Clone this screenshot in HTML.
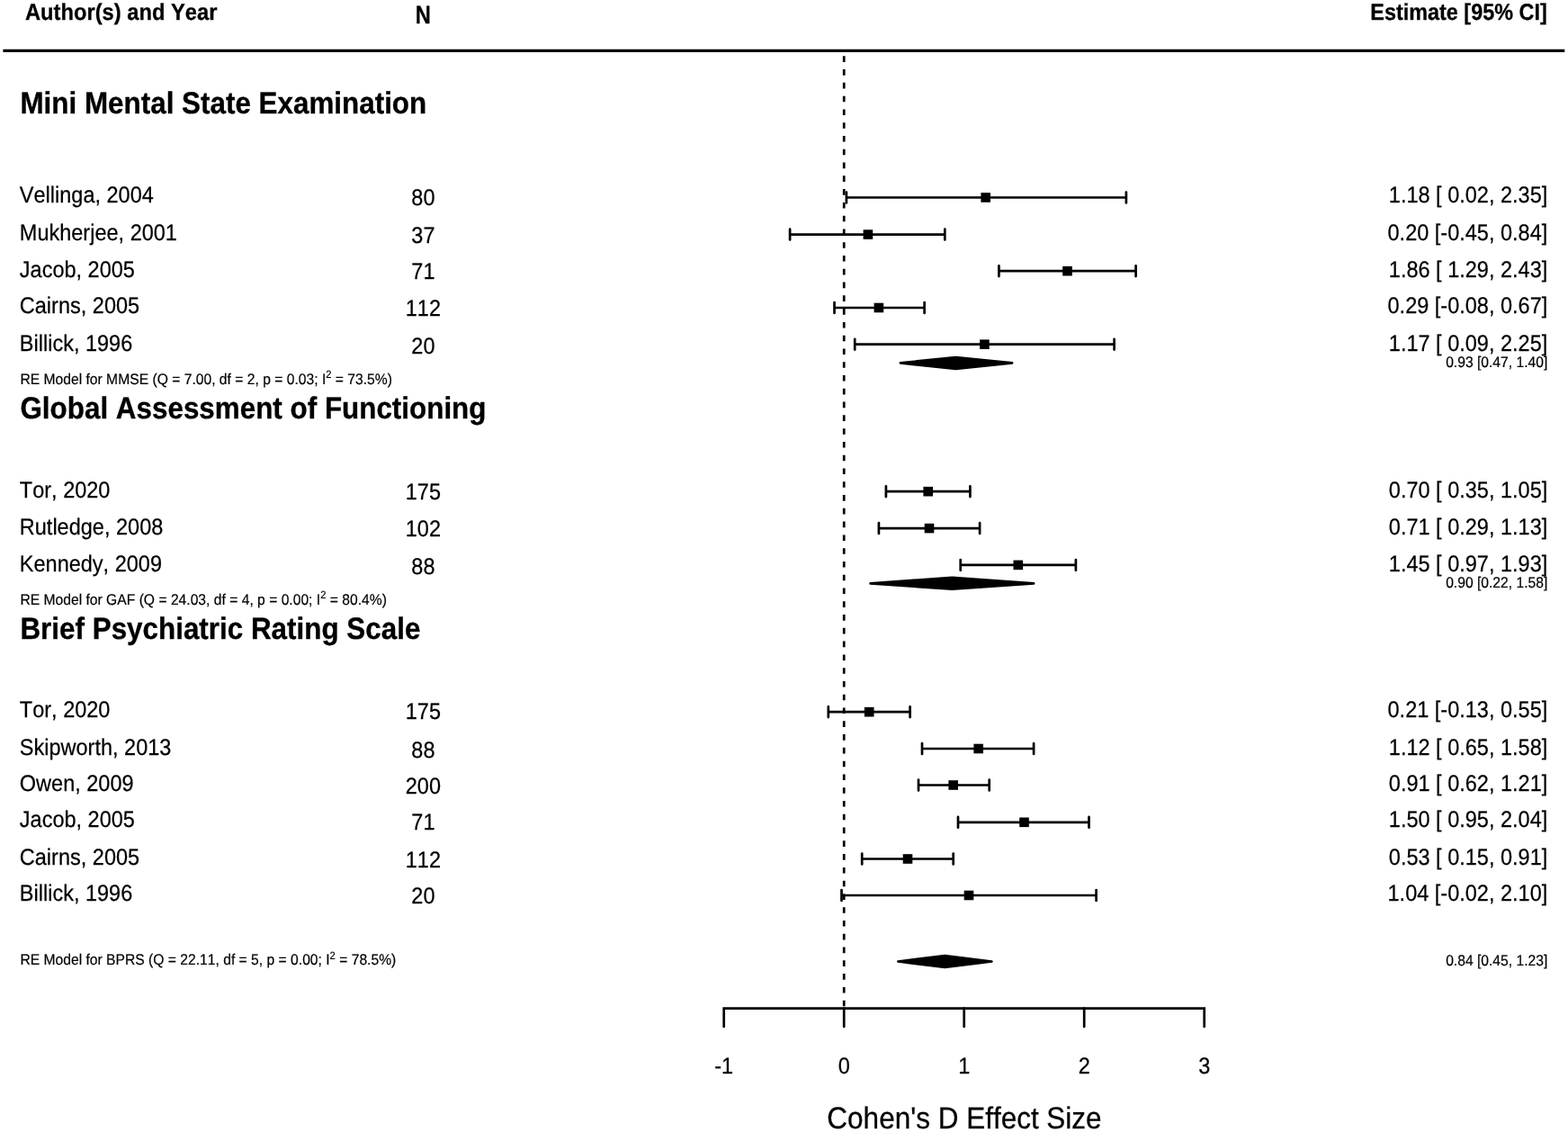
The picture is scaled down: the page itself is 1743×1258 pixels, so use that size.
<!DOCTYPE html>
<html lang="en">
<head>
<meta charset="utf-8">
<title>Forest plot</title>
<style>
html,body{margin:0;padding:0;background:#fff;}
body{width:1743px;height:1258px;overflow:hidden;}
svg{display:block;font-family:"Liberation Sans", Arial, Helvetica, sans-serif;fill:#000;font-kerning:none;text-rendering:geometricPrecision;}
.hd{font-size:25.7px;font-weight:700;stroke:#000;stroke-width:0.3px;}
.sec{font-size:34px;font-weight:700;stroke:#000;stroke-width:0.35px;}
.row{font-size:25.4px;font-weight:400;stroke:#000;stroke-width:0.25px;}
.sm{font-size:16.8px;font-weight:400;stroke:#000;stroke-width:0.2px;}
.ax{font-size:25.4px;font-weight:400;stroke:#000;stroke-width:0.25px;}
.xl{font-size:33.9px;font-weight:400;stroke:#000;stroke-width:0.3px;}
text{white-space:pre;}
.ln{stroke:#000;stroke-width:2.7;fill:none;stroke-linecap:round;}
.dm{stroke:#000;stroke-width:2.7;stroke-linejoin:round;}
</style>
</head>
<body>
<svg width="1743" height="1258" viewBox="0 0 1743 1258">
<defs><filter id="soft" x="0" y="0" width="1743" height="1258" filterUnits="userSpaceOnUse"><feGaussianBlur stdDeviation="0.55"/></filter></defs>
<rect x="0" y="0" width="1743" height="1258" fill="#fff"/>
<g filter="url(#soft)">
<text class="hd" transform="translate(28.00 21.80) scale(0.923 1)" xml:space="preserve">Author(s) and Year</text>
<text class="hd" transform="translate(470.30 25.70) scale(0.847 1)" text-anchor="middle" style="font-size:28px" xml:space="preserve">N</text>
<text class="hd" transform="translate(1719.70 21.80) scale(0.911 1)" text-anchor="end" xml:space="preserve">Estimate [95% CI]</text>
<line x1="3.4" y1="56.4" x2="1739.3" y2="56.4" stroke="#000" stroke-width="3.2"/>
<line x1="938.2" y1="62.3" x2="938.2" y2="1120.7" stroke="#000" stroke-width="2.7" stroke-dasharray="6.6 8.18"/>
<text class="sec" transform="translate(22.45 125.90) scale(0.9233 1)" xml:space="preserve">Mini Mental State Examination</text>
<text class="row" transform="translate(21.80 225.40) scale(0.926 1)" xml:space="preserve">Vellinga, 2004</text>
<text class="row" transform="translate(470.40 228.20) scale(0.926 1)" text-anchor="middle" xml:space="preserve">80</text>
<text class="row" transform="translate(1720.30 225.40) scale(0.926 1)" text-anchor="end" xml:space="preserve">1.18 [ 0.02, 2.35]</text>
<path class="ln" d="M940.9 219.5H1251.9M940.9 213.6v11.8M1251.9 213.6v11.8"/>
<rect x="1090.4" y="214.2" width="10.6" height="10.6"/>
<text class="row" transform="translate(21.80 267.12) scale(0.926 1)" xml:space="preserve">Mukherjee, 2001</text>
<text class="row" transform="translate(470.40 269.92) scale(0.926 1)" text-anchor="middle" xml:space="preserve">37</text>
<text class="row" transform="translate(1720.30 267.12) scale(0.926 1)" text-anchor="end" xml:space="preserve">0.20 [-0.45, 0.84]</text>
<path class="ln" d="M878.1 260.6H1050.3M878.1 254.7v11.8M1050.3 254.7v11.8"/>
<rect x="959.6" y="255.3" width="10.6" height="10.6"/>
<text class="row" transform="translate(21.80 307.54) scale(0.926 1)" xml:space="preserve">Jacob, 2005</text>
<text class="row" transform="translate(470.40 310.34) scale(0.926 1)" text-anchor="middle" xml:space="preserve">71</text>
<text class="row" transform="translate(1720.30 307.54) scale(0.926 1)" text-anchor="end" xml:space="preserve">1.86 [ 1.29, 2.43]</text>
<path class="ln" d="M1110.4 301.2H1262.6M1110.4 295.3v11.8M1262.6 295.3v11.8"/>
<rect x="1181.2" y="295.9" width="10.6" height="10.6"/>
<text class="row" transform="translate(21.80 348.46) scale(0.926 1)" xml:space="preserve">Cairns, 2005</text>
<text class="row" transform="translate(470.40 351.26) scale(0.926 1)" text-anchor="middle" xml:space="preserve">112</text>
<text class="row" transform="translate(1720.30 348.46) scale(0.926 1)" text-anchor="end" xml:space="preserve">0.29 [-0.08, 0.67]</text>
<path class="ln" d="M927.5 342.0H1027.6M927.5 336.1v11.8M1027.6 336.1v11.8"/>
<rect x="971.6" y="336.7" width="10.6" height="10.6"/>
<text class="row" transform="translate(21.80 390.08) scale(0.926 1)" xml:space="preserve">Billick, 1996</text>
<text class="row" transform="translate(470.40 392.88) scale(0.926 1)" text-anchor="middle" xml:space="preserve">20</text>
<text class="row" transform="translate(1720.30 390.08) scale(0.926 1)" text-anchor="end" xml:space="preserve">1.17 [ 0.09, 2.25]</text>
<path class="ln" d="M950.2 382.7H1238.6M950.2 376.8v11.8M1238.6 376.8v11.8"/>
<rect x="1089.1" y="377.4" width="10.6" height="10.6"/>
<text class="sm" transform="translate(22.40 427.00) scale(0.933 1)" xml:space="preserve">RE Model for MMSE (Q = 7.00, df = 2, p = 0.03; I<tspan dy="-6.6" font-size="12">2</tspan><tspan dy="6.6"> = 73.5%)</tspan></text>
<text class="sm" transform="translate(1720.30 407.70) scale(0.933 1)" text-anchor="end" xml:space="preserve">0.93 [0.47, 1.40]</text>
<polygon class="dm" points="1000.9,403.4 1062.4,397.0 1125.1,403.4 1062.4,409.8"/>
<text class="sec" transform="translate(22.45 464.90) scale(0.9233 1)" xml:space="preserve">Global Assessment of Functioning</text>
<text class="row" transform="translate(21.80 552.56) scale(0.926 1)" xml:space="preserve">Tor, 2020</text>
<text class="row" transform="translate(470.40 555.36) scale(0.926 1)" text-anchor="middle" xml:space="preserve">175</text>
<text class="row" transform="translate(1720.30 552.56) scale(0.926 1)" text-anchor="end" xml:space="preserve">0.70 [ 0.35, 1.05]</text>
<path class="ln" d="M984.9 546.2H1078.4M984.9 540.3v11.8M1078.4 540.3v11.8"/>
<rect x="1026.4" y="540.9" width="10.6" height="10.6"/>
<text class="row" transform="translate(21.80 593.53) scale(0.926 1)" xml:space="preserve">Rutledge, 2008</text>
<text class="row" transform="translate(470.40 596.33) scale(0.926 1)" text-anchor="middle" xml:space="preserve">102</text>
<text class="row" transform="translate(1720.30 593.53) scale(0.926 1)" text-anchor="end" xml:space="preserve">0.71 [ 0.29, 1.13]</text>
<path class="ln" d="M976.9 587.1H1089.1M976.9 581.2v11.8M1089.1 581.2v11.8"/>
<rect x="1027.7" y="581.8" width="10.6" height="10.6"/>
<text class="row" transform="translate(21.80 635.25) scale(0.926 1)" xml:space="preserve">Kennedy, 2009</text>
<text class="row" transform="translate(470.40 638.05) scale(0.926 1)" text-anchor="middle" xml:space="preserve">88</text>
<text class="row" transform="translate(1720.30 635.25) scale(0.926 1)" text-anchor="end" xml:space="preserve">1.45 [ 0.97, 1.93]</text>
<path class="ln" d="M1067.7 627.9H1195.9M1067.7 622.0v11.8M1195.9 622.0v11.8"/>
<rect x="1126.5" y="622.6" width="10.6" height="10.6"/>
<text class="sm" transform="translate(22.40 672.00) scale(0.933 1)" xml:space="preserve">RE Model for GAF (Q = 24.03, df = 4, p = 0.00; I<tspan dy="-6.6" font-size="12">2</tspan><tspan dy="6.6"> = 80.4%)</tspan></text>
<text class="sm" transform="translate(1720.30 652.60) scale(0.933 1)" text-anchor="end" xml:space="preserve">0.90 [0.22, 1.58]</text>
<polygon class="dm" points="967.6,648.3 1058.4,641.9 1149.1,648.3 1058.4,654.7"/>
<text class="sec" transform="translate(22.45 709.90) scale(0.9233 1)" xml:space="preserve">Brief Psychiatric Rating Scale</text>
<text class="row" transform="translate(21.80 796.63) scale(0.926 1)" xml:space="preserve">Tor, 2020</text>
<text class="row" transform="translate(470.40 799.43) scale(0.926 1)" text-anchor="middle" xml:space="preserve">175</text>
<text class="row" transform="translate(1720.30 796.63) scale(0.926 1)" text-anchor="end" xml:space="preserve">0.21 [-0.13, 0.55]</text>
<path class="ln" d="M920.8 791.2H1011.6M920.8 785.3v11.8M1011.6 785.3v11.8"/>
<rect x="960.9" y="785.9" width="10.6" height="10.6"/>
<text class="row" transform="translate(21.80 839.15) scale(0.926 1)" xml:space="preserve">Skipworth, 2013</text>
<text class="row" transform="translate(470.40 841.95) scale(0.926 1)" text-anchor="middle" xml:space="preserve">88</text>
<text class="row" transform="translate(1720.30 839.15) scale(0.926 1)" text-anchor="end" xml:space="preserve">1.12 [ 0.65, 1.58]</text>
<path class="ln" d="M1025.0 832.0H1149.1M1025.0 826.1v11.8M1149.1 826.1v11.8"/>
<rect x="1082.4" y="826.7" width="10.6" height="10.6"/>
<text class="row" transform="translate(21.80 879.02) scale(0.926 1)" xml:space="preserve">Owen, 2009</text>
<text class="row" transform="translate(470.40 881.82) scale(0.926 1)" text-anchor="middle" xml:space="preserve">200</text>
<text class="row" transform="translate(1720.30 879.02) scale(0.926 1)" text-anchor="end" xml:space="preserve">0.91 [ 0.62, 1.21]</text>
<path class="ln" d="M1021.0 872.5H1099.7M1021.0 866.6v11.8M1099.7 866.6v11.8"/>
<rect x="1054.4" y="867.2" width="10.6" height="10.6"/>
<text class="row" transform="translate(21.80 919.14) scale(0.926 1)" xml:space="preserve">Jacob, 2005</text>
<text class="row" transform="translate(470.40 921.94) scale(0.926 1)" text-anchor="middle" xml:space="preserve">71</text>
<text class="row" transform="translate(1720.30 919.14) scale(0.926 1)" text-anchor="end" xml:space="preserve">1.50 [ 0.95, 2.04]</text>
<path class="ln" d="M1065.0 913.8H1210.5M1065.0 907.9v11.8M1210.5 907.9v11.8"/>
<rect x="1133.2" y="908.5" width="10.6" height="10.6"/>
<text class="row" transform="translate(21.80 960.86) scale(0.926 1)" xml:space="preserve">Cairns, 2005</text>
<text class="row" transform="translate(470.40 963.66) scale(0.926 1)" text-anchor="middle" xml:space="preserve">112</text>
<text class="row" transform="translate(1720.30 960.86) scale(0.926 1)" text-anchor="end" xml:space="preserve">0.53 [ 0.15, 0.91]</text>
<path class="ln" d="M958.2 954.5H1059.7M958.2 948.6v11.8M1059.7 948.6v11.8"/>
<rect x="1003.7" y="949.2" width="10.6" height="10.6"/>
<text class="row" transform="translate(21.80 1000.88) scale(0.926 1)" xml:space="preserve">Billick, 1996</text>
<text class="row" transform="translate(470.40 1003.68) scale(0.926 1)" text-anchor="middle" xml:space="preserve">20</text>
<text class="row" transform="translate(1720.30 1000.88) scale(0.926 1)" text-anchor="end" xml:space="preserve">1.04 [-0.02, 2.10]</text>
<path class="ln" d="M935.5 995.0H1218.6M935.5 989.1v11.8M1218.6 989.1v11.8"/>
<rect x="1071.7" y="989.7" width="10.6" height="10.6"/>
<text class="sm" transform="translate(22.40 1072.30) scale(0.933 1)" xml:space="preserve">RE Model for BPRS (Q = 22.11, df = 5, p = 0.00; I<tspan dy="-6.6" font-size="12">2</tspan><tspan dy="6.6"> = 78.5%)</tspan></text>
<text class="sm" transform="translate(1720.30 1072.80) scale(0.933 1)" text-anchor="end" xml:space="preserve">0.84 [0.45, 1.23]</text>
<polygon class="dm" points="998.3,1068.5 1050.3,1062.1 1102.4,1068.5 1050.3,1074.9"/>
<path class="ln" style="stroke-linejoin:miter" d="M804.7 1141.0V1120.7H1338.7V1141.0"/>
<path class="ln" d="M938.2 1120.7V1141.0M1071.7 1120.7V1141.0M1205.2 1120.7V1141.0"/>
<text class="ax" transform="translate(804.70 1192.70) scale(0.926 1)" text-anchor="middle" xml:space="preserve">-1</text>
<text class="ax" transform="translate(938.20 1192.70) scale(0.926 1)" text-anchor="middle" xml:space="preserve">0</text>
<text class="ax" transform="translate(1071.70 1192.70) scale(0.926 1)" text-anchor="middle" xml:space="preserve">1</text>
<text class="ax" transform="translate(1205.20 1192.70) scale(0.926 1)" text-anchor="middle" xml:space="preserve">2</text>
<text class="ax" transform="translate(1338.70 1192.70) scale(0.926 1)" text-anchor="middle" xml:space="preserve">3</text>
<text class="xl" transform="translate(1072.00 1254.00) scale(0.929 1)" text-anchor="middle" xml:space="preserve">Cohen's D Effect Size</text>
</g>
</svg>
</body>
</html>
